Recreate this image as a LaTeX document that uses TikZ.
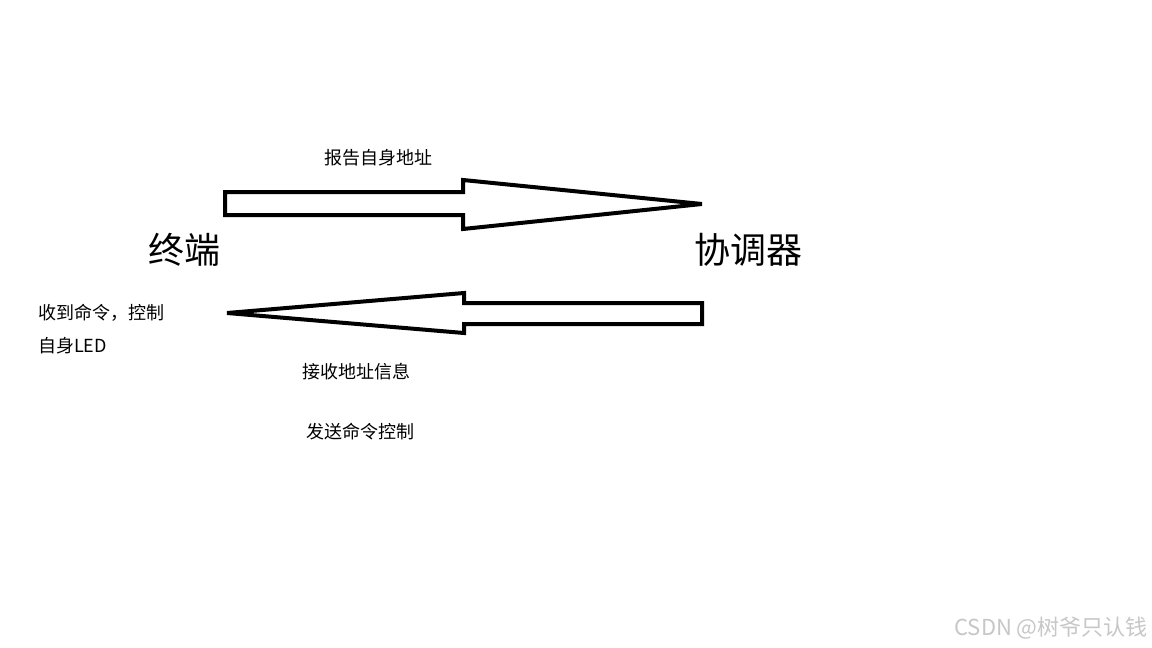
\documentclass[tikz,border=0pt]{standalone}
\usepackage{fontspec}
\setmainfont{Noto Sans CJK SC}
\newfontfamily\cjk{Noto Sans CJK SC}
\begin{document}
\begin{tikzpicture}[x=1pt,y=-1pt,
  fatarrow/.style={draw=black,line width=4pt,line join=miter,miter limit=2,fill=white},
  lbl/.style={font=\fontsize{18}{22}\selectfont,inner sep=0pt},
  big/.style={font=\fontsize{36}{40}\selectfont,inner sep=0pt}]
\useasboundingbox[fill=white] (0,0) rectangle (1152,648);
% top arrow (terminal -> coordinator)
\draw[fatarrow] (225,192) -- (463,192) -- (463,180) -- (702,204) -- (463,229) -- (463,215) -- (225,215) -- cycle;
% bottom arrow (coordinator -> terminal)
\draw[fatarrow] (702,303) -- (464,303) -- (464,293) -- (227,313) -- (464,333) -- (464,324) -- (702,324) -- cycle;
\node[big] (term) at (184,250) {终端};
\node[big] (coord) at (748,250) {协调器};
\node[lbl] (rep) at (378,158) {报告自身地址};
\node[lbl] (recv) at (356,372) {接收地址信息};
\node[lbl] (send) at (360,432) {发送命令控制};
\node[lbl,anchor=west] (ctl1) at (38,313) {收到命令，控制};
\node[lbl,anchor=west] (ctl2) at (38,346) {自身LED};
\node[font=\fontsize{22}{26}\selectfont,text=black!22,anchor=east,inner sep=0pt] (wm) at (1148,628) {CSDN @树爷只认钱};
\end{tikzpicture}
\end{document}
